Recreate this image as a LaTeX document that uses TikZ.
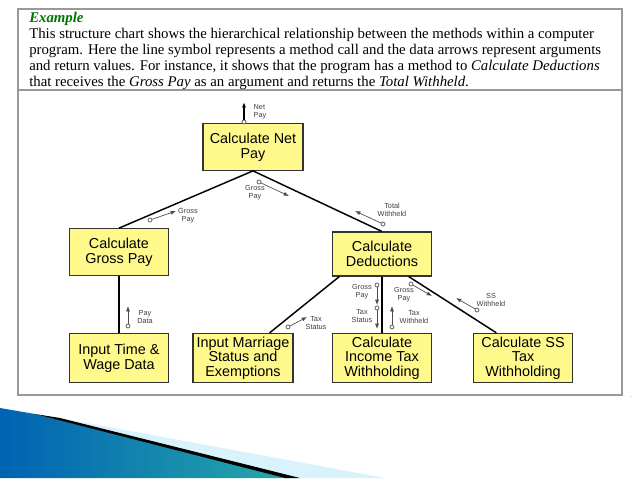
\documentclass[tikz,border=0pt]{standalone}
\usepackage{fontspec}
\setmainfont{Liberation Serif}
\newfontfamily\arial{Liberation Sans}
\begin{document}
\begin{tikzpicture}[x=0.75pt,y=-0.75pt,
  box/.style={draw=black!80,fill=yellow!45!white,line width=0.8pt,inner sep=0pt,font=\arial\fontsize{10.8}{11}\selectfont,align=center},
  call/.style={line width=1.1pt},
  data/.style={-{Latex[length=4pt,width=3pt]},line width=0.5pt,black!70},
  dot/.style={circle,draw=black!70,fill=white,inner sep=0pt,minimum size=3pt,line width=0.5pt},
  lab/.style={font=\arial\fontsize{5.5}{6}\selectfont,text=black!75,align=center,inner sep=0pt}]
\usetikzlibrary{arrows.meta}
\useasboundingbox (0,0) rectangle (638,478);
\fill[white] (0,0) rectangle (638,478);
% frame
\draw[black!40,line width=1pt] (18,9) rectangle (622,395);
\draw[black!40,line width=1pt] (18,90) -- (622,90);
\node[anchor=north west,inner sep=0pt,align=left,font=\fontsize{11.1}{12}\selectfont] at (29,12)
{{\color{green!45!black}\textbf{\textit{Example}}}\\
This structure chart shows the hierarchical relationship between the methods within a computer\\
program. Here the line symbol represents a method call and the data arrows represent arguments\\
and return values. For instance, it shows that the program has a method to \textit{Calculate Deductions}\\
that receives the \textit{Gross Pay} as an argument and returns the \textit{Total Withheld}.};
% boxes
\node[box,minimum width=75pt,minimum height=35pt] (net) at (253,147) {Calculate Net\\Pay};
\node[box,minimum width=74pt,minimum height=35pt] (gross) at (119,252) {Calculate\\Gross Pay};
\node[box,minimum width=74pt,minimum height=33pt] (ded) at (382,254) {Calculate\\Deductions};
\node[box,minimum width=74pt,minimum height=37pt] (time) at (119,358) {Input Time \&\\Wage Data};
\node[box,minimum width=75pt,minimum height=37pt] (mar) at (243,358) {Input Marriage\\Status and\\Exemptions};
\node[box,minimum width=74pt,minimum height=37pt] (inc) at (382,358) {Calculate\\Income Tax\\Withholding};
\node[box,minimum width=74pt,minimum height=37pt] (ss) at (523,358) {Calculate SS\\Tax\\Withholding};
% calls
\draw[call] (net.south) -- (gross.north);
\draw[call] (net.south) -- (ded.north);
\draw[call] (gross.south) -- (time.north);
\draw[call] ([xshift=-32pt]ded.south) -- ([xshift=20pt]mar.north);
\draw[call] (ded.south) -- (inc.north);
\draw[call] ([xshift=20pt]ded.south) -- ([xshift=-20pt]ss.north);
% data arrows
\node[dot] (d1) at (244,122) {}; \coordinate (e1) at (244,102);
\draw[data,black,line width=0.8pt] (d1) -- (e1);
\node[lab,align=left] at (260,112) {Net\\Pay};
\node[dot] (d2) at (150,220) {}; \coordinate (e2) at (176,211);
\draw[data] (d2) -- (e2); \node[lab] at (188,216) {Gross\\Pay};
\node[dot] (d3) at (259,182) {}; \coordinate (e3) at (289,196);
\draw[data] (d3) -- (e3); \node[lab] at (255,193) {Gross\\Pay};
\node[dot] (d4) at (383,224) {}; \coordinate (e4) at (355,211);
\draw[data] (d4) -- (e4); \node[lab] at (392,210) {Total\\Withheld};
\node[dot] (d5) at (128,326) {}; \coordinate (e5) at (128,306);
\draw[data] (d5) -- (e5); \node[lab] at (145,317) {Pay\\Data};
\node[dot] (d6) at (288,327) {}; \coordinate (e6) at (307,317);
\draw[data] (d6) -- (e6); \node[lab] at (316,323) {Tax\\Status};
\node[dot] (d7) at (377,285) {}; \coordinate (e7) at (377,305);
\draw[data] (d7) -- (e7); \node[lab] at (362,292) {Gross\\Pay};
\node[dot] (d8) at (377,308) {}; \coordinate (e8) at (377,329);
\draw[data] (d8) -- (e8); \node[lab] at (362,316) {Tax\\Status};
\node[dot] (d9) at (392,327) {}; \coordinate (e9) at (392,306);
\draw[data] (d9) -- (e9); \node[lab] at (414,317) {Tax\\Withheld};
\node[dot] (d10) at (411,284) {}; \coordinate (e10) at (432,296);
\draw[data] (d10) -- (e10); \node[lab] at (404,295) {Gross\\Pay};
\node[dot] (d11) at (477,310) {}; \coordinate (e11) at (456,298);
\draw[data] (d11) -- (e11); \node[lab] at (491,300) {SS\\Withheld};
% decoration
\fill[cyan!15] (60,418) -- (385,478) -- (230,478) -- cycle;
\shade[left color=cyan!55!blue!70!black,right color=cyan!60!black!85] (0,408) -- (35,414) -- (290,478) -- (0,478) -- cycle;
\fill[black] (35,414) -- (60,418) -- (300,478) -- (285,478) -- cycle;
\node[font=\tiny,text=black!60] at (631,397) {.};
\end{tikzpicture}
\end{document}
